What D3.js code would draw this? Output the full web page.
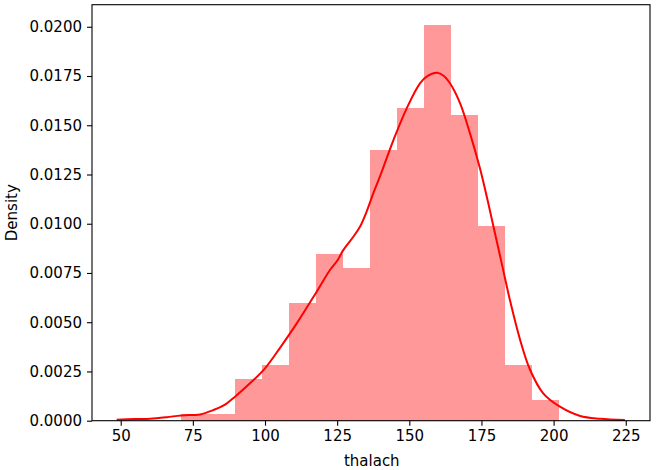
<!DOCTYPE html>
<html>
<head>
<meta charset="utf-8">
<script src="https://cdn.jsdelivr.net/npm/d3@7"></script>
<style>
    body { margin: 0; background: #fff; }
    text { font-family: "DejaVu Sans", sans-serif; }
</style>
</head>
<body>
<svg id="chart" width="664" height="470"></svg>
<script>
// histogram bins (left edges) and last right edge
let binStarts = [71, 80.4, 89.7, 99.1, 108.4, 117.8, 127.1, 136.5, 145.9, 155.2, 164.6, 173.9, 183.3, 192.6]
let binEnd = 202
let binDensity = [0.00035, 0.00035, 0.00212, 0.00282, 0.0060, 0.00846, 0.00776, 0.01375, 0.01587, 0.0201, 0.01552, 0.00988, 0.00282, 0.00106]

// kde curve
let kdeX = [48.6, 55, 60.2, 66, 71, 77.5, 82.1, 86, 89.6, 94.8, 100, 105.2, 111, 117.9, 122.5, 125.2, 127.1, 130.6, 132.9, 135.2, 137.5, 139.8, 144.5, 149.1, 153.7, 156.5, 159.6, 162, 164.1, 167.6, 171, 174.5, 176.8, 179.1, 182, 184.9, 188.4, 191.8, 196.4, 202.2, 209.2, 216.1, 224.7]
let kdeY = [0.00005, 0.00008, 0.0001, 0.00018, 0.00027, 0.00032, 0.00054, 0.0008, 0.00122, 0.0019, 0.00266, 0.0037, 0.00494, 0.00655, 0.00765, 0.00816, 0.00866, 0.00934, 0.00985, 0.01061, 0.01154, 0.01239, 0.01425, 0.01586, 0.01713, 0.01752, 0.01767, 0.0175, 0.01713, 0.01611, 0.0146, 0.0128, 0.0114, 0.0099, 0.0080, 0.0061, 0.0041, 0.0026, 0.00139, 0.00071, 0.00024, 0.0001, 0.00004]

let xTicks = [50, 75, 100, 125, 150, 175, 200, 225]
let yTicks = [0, 0.0025, 0.005, 0.0075, 0.01, 0.0125, 0.015, 0.0175, 0.02]

let width = 664
let height = 470
let margin = {top: 4.7, right: 14, bottom: 49.3, left: 92}

let svg = d3.select("#chart")

let x = d3.scaleLinear()
    .domain([40.05, 233.4])
    .range([margin.left, width - margin.right])

let y = d3.scaleLinear()
    .domain([0, 0.02112])
    .range([height - margin.bottom, margin.top])

// bars
let bins = binStarts.map(function (d, i) {
    return {x0: d, x1: i < binStarts.length - 1 ? binStarts[i + 1] : binEnd, h: binDensity[i]}
})

svg.append("g")
    .selectAll("rect")
    .data(bins)
    .join("rect")
    .attr("x", d => x(d.x0))
    .attr("width", d => x(d.x1) - x(d.x0))
    .attr("y", d => y(d.h))
    .attr("height", d => y(0) - y(d.h))
    .attr("shape-rendering", "crispEdges")
    .style("fill", "#ff9999")

// kde line
let line = d3.line()
    .x(d => x(d[0]))
    .y(d => y(d[1]))
    .curve(d3.curveCatmullRom)

svg.append("path")
    .datum(kdeX.map((d, i) => [d, kdeY[i]]))
    .attr("d", line)
    .style("fill", "none")
    .style("stroke", "#ff0000")
    .style("stroke-width", 2)

// frame
svg.append("rect")
    .attr("x", margin.left)
    .attr("y", margin.top)
    .attr("width", width - margin.right - margin.left)
    .attr("height", height - margin.bottom - margin.top)
    .style("fill", "none")
    .style("stroke", "#000")
    .style("stroke-width", 1.1)

// axes
let xAxis = svg.append("g")
    .attr("transform", "translate(0," + (height - margin.bottom) + ")")
    .call(d3.axisBottom(x).tickValues(xTicks).tickSize(5).tickPadding(5).tickSizeOuter(0))

let yAxis = svg.append("g")
    .attr("transform", "translate(" + margin.left + ",0)")
    .call(d3.axisLeft(y).tickValues(yTicks).tickSize(5).tickPadding(5).tickSizeOuter(0).tickFormat(d3.format(".4f")))

svg.selectAll(".domain").remove()
svg.selectAll(".tick line").style("stroke", "#000").style("stroke-width", 1.1)
svg.selectAll(".tick text")
    .style("font-family", "DejaVu Sans")
    .style("font-size", "15px")
    .style("fill", "#000")

svg.append("text")
    .attr("x", x(137))
    .attr("y", 466)
    .attr("text-anchor", "middle")
    .style("font-size", "15px")
    .text("thalach")

svg.append("text")
    .attr("transform", "translate(17," + ((margin.top + height - margin.bottom) / 2) + ") rotate(-90)")
    .attr("text-anchor", "middle")
    .style("font-size", "15px")
    .text("Density")
</script>
</body>
</html>
